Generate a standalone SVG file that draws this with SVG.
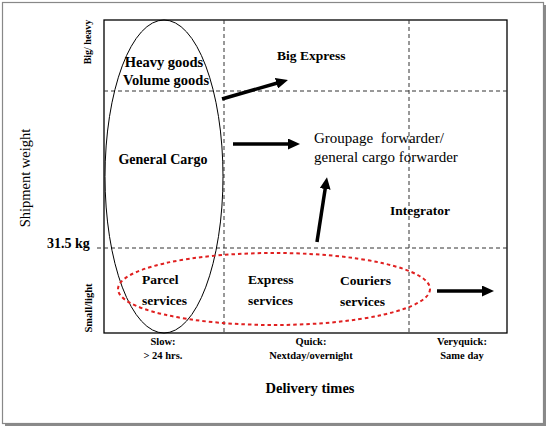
<svg xmlns="http://www.w3.org/2000/svg" width="550" height="430" viewBox="0 0 550 430">
<style>
  text { font-family: "Liberation Serif", "Times New Roman", serif; fill: #000; }
  .b { font-weight: bold; }
  .dash { stroke: #333; stroke-width: 1; stroke-dasharray: 4 3; fill: none; }
  .arrow { stroke: #000; stroke-width: 3.5; fill: none; marker-end: url(#head); }
  .ax { font-size: 10.5px; font-weight: bold; text-anchor: middle; }
</style>
<defs>
  <marker id="head" markerUnits="userSpaceOnUse" markerWidth="13" markerHeight="11" refX="1" refY="5.5" orient="auto">
    <path d="M0,0 L12,5.5 L0,11 Z" fill="#000"/>
  </marker>
</defs>
<g id="frame">
  <rect x="5" y="5" width="541" height="421" fill="#8a8a8a"/>
  <rect x="2.5" y="2.5" width="541" height="421" fill="#fff" stroke="#888" stroke-width="1.2"/>
</g>
<g id="plot">
  <rect x="104" y="20" width="403" height="313" fill="none" stroke="#000" stroke-width="1.3"/>
  <line class="dash" x1="224" y1="20" x2="224" y2="333"/>
  <line class="dash" x1="409" y1="20" x2="409" y2="333"/>
  <line class="dash" x1="104" y1="91" x2="507" y2="91"/>
  <line class="dash" x1="97" y1="248" x2="507" y2="248"/>
</g>
<g id="axis-labels">
  <text class="b" font-size="10" transform="translate(91,42) rotate(-90)" text-anchor="middle">Big/ heavy</text>
  <text class="b" font-size="10.5" transform="translate(92,308) rotate(-90)" text-anchor="middle">Small/light</text>
  <text font-size="14.5" transform="translate(30,178) rotate(-90)" text-anchor="middle">Shipment weight</text>
  <text class="b" font-size="14" x="47" y="248">31.5 kg</text>
  <text class="ax" x="163" y="345">Slow:</text>
  <text class="ax" x="163" y="359">&gt; 24 hrs.</text>
  <text class="ax" x="311" y="345">Quick:</text>
  <text class="ax" x="311" y="359">Nextday/overnight</text>
  <text class="ax" x="462" y="345">Veryquick:</text>
  <text class="ax" x="462" y="359">Same day</text>
  <text class="b" font-size="14.5" x="310" y="393" text-anchor="middle">Delivery times</text>
</g>
<g id="general-cargo">
  <ellipse cx="164" cy="176.5" rx="59" ry="156.5" fill="none" stroke="#000" stroke-width="1"/>
  <text class="b" font-size="14.5" x="164" y="67" text-anchor="middle">Heavy goods</text>
  <text class="b" font-size="14.5" x="166" y="85" text-anchor="middle">Volume goods</text>
  <text class="b" font-size="14" x="163" y="164" text-anchor="middle">General Cargo</text>
</g>
<g id="parcel-express">
  <ellipse cx="274" cy="289" rx="156" ry="36" fill="none" stroke="#e02020" stroke-width="2" stroke-dasharray="3.5 3"/>
  <text class="b" font-size="13.5" x="142" y="284">Parcel</text>
  <text class="b" font-size="13.5" x="142" y="305">services</text>
  <text class="b" font-size="13.5" x="248" y="284">Express</text>
  <text class="b" font-size="13.5" x="248" y="305">services</text>
  <text class="b" font-size="13.5" x="340" y="285">Couriers</text>
  <text class="b" font-size="13.5" x="340" y="306">services</text>
</g>
<g id="big-express">
  <text class="b" font-size="13.5" x="277" y="60">Big Express</text>
</g>
<g id="groupage">
  <text font-size="15" x="314" y="143" xml:space="preserve">Groupage  forwarder/</text>
  <text font-size="15" x="314" y="162">general cargo forwarder</text>
</g>
<g id="integrator">
  <text class="b" font-size="13.5" x="390" y="215">Integrator</text>
</g>
<g id="connectors">
  <line class="arrow" x1="222" y1="99" x2="277.4" y2="83"/>
  <line class="arrow" x1="233" y1="144" x2="289" y2="144"/>
  <line class="arrow" x1="317" y1="242" x2="325.3" y2="188"/>
  <line class="arrow" x1="437" y1="291" x2="483" y2="291"/>
</g>
</svg>
